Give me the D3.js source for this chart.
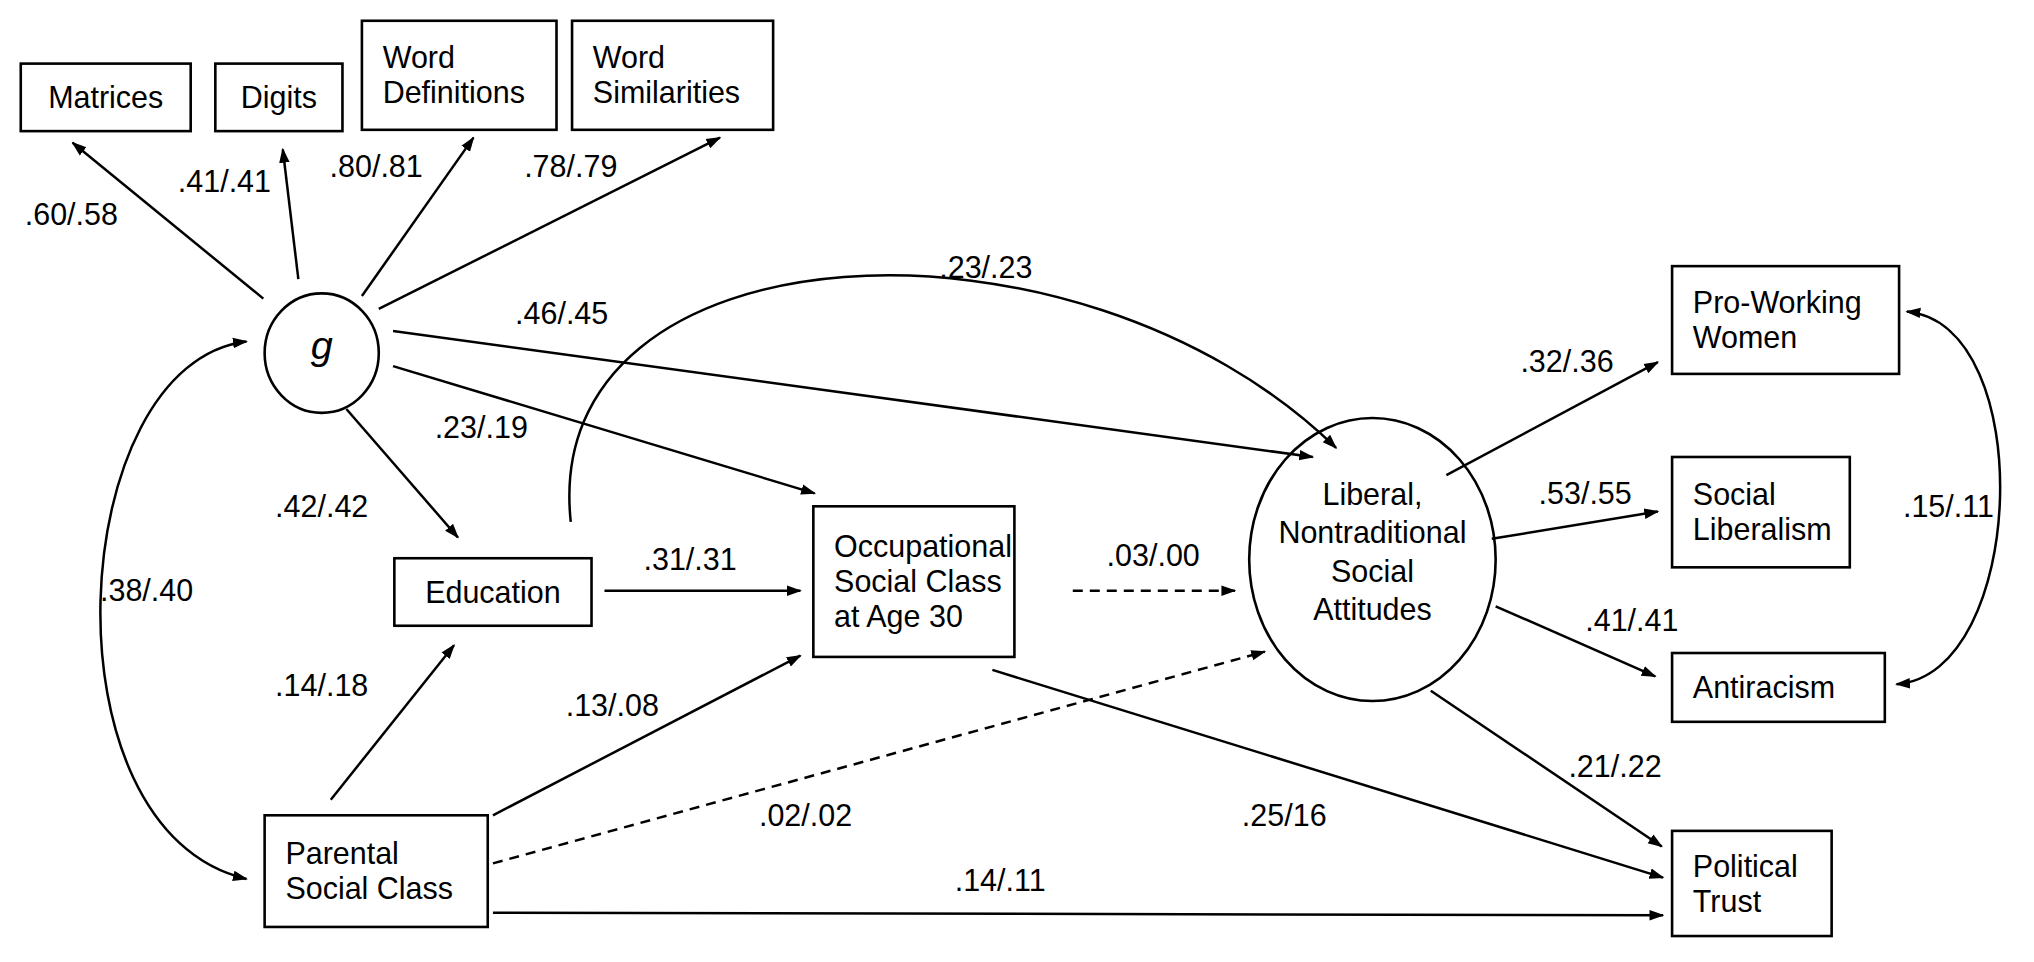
<!DOCTYPE html>
<html><head><meta charset="utf-8">
<script src="https://cdn.jsdelivr.net/npm/d3@7"></script>
<style>body{margin:0;background:#fff}svg{display:block}text{font-family:"Liberation Sans",Arial,sans-serif;fill:#000}</style>
</head><body><svg id="c"></svg>
<script>
// Node labels
const boxNodes = [
 {id:"mat", lines:["Matrices"]},
 {id:"dig", lines:["Digits"]},
 {id:"wd", lines:["Word","Definitions"], left:true},
 {id:"ws", lines:["Word","Similarities"], left:true},
 {id:"edu", lines:["Education"]},
 {id:"occ", lines:["Occupational","Social Class","at Age 30"], left:true},
 {id:"par", lines:["Parental","Social Class"], left:true},
 {id:"pw", lines:["Pro-Working","Women"], left:true},
 {id:"sl", lines:["Social","Liberalism"], left:true},
 {id:"anti", lines:["Antiracism"], left:true},
 {id:"pt", lines:["Political","Trust"], left:true}
];
const ellNodes = [
 {id:"g", lines:["g"], italic:true},
 {id:"lib", lines:["Liberal,","Nontraditional","Social","Attitudes"]}
];
// Path coefficients (label text)
const coefLabels = [".60/.58",".41/.41",".80/.81",".78/.79",".46/.45",".23/.19",".23/.23",".42/.42",".38/.40",".31/.31",".03/.00",".14/.18",".13/.08",".02/.02",".25/16",".14/.11",".32/.36",".53/.55",".41/.41",".21/.22",".15/.11"];

// Layout (reference units, 1568 x 741)
const boxLayout = {
 mat:[16,49,131,52], dig:[166,49,98,52], wd:[279,16,150,84], ws:[441,16,155,84],
 edu:[304,430,152,52], occ:[627,390,155,116], par:[204,628,172,86],
 pw:[1289,205,175,83], sl:[1289,352,137,85], anti:[1289,503,164,53], pt:[1289,640,123,81]
};
const ellLayout = { g:[248,272,44,46], lib:[1058,431,95,109] };
const arrows = [
 {p:[[203,230],[56,110]]},{p:[[230,215],[218,115]]},{p:[[279,228],[365,106]]},{p:[[292,238],[555,106]]},
 {p:[[303,255],[1012,352]]},{p:[[303,282],[628,380]]},{p:[[267,315],[353,414]]},
 {p:[[466,455],[617,455]]},{p:[[827,455],[952,455]],dash:true},
 {p:[[255,616],[350,497]]},{p:[[380,628],[617,505]]},{p:[[380,665],[975,502]],dash:true},
 {p:[[380,703],[1282,705]]},{p:[[765,516],[1282,676]]},
 {p:[[1115,366],[1278,279]]},{p:[[1150,415],[1278,394]]},{p:[[1153,467],[1276,521]]},{p:[[1103,532],[1281,652]]}
];
const curves = [
 {d:[[440,402],[415,170],[830,150],[1030,345]], end:true},
 {d:[[190,677],[30,640],[50,280],[190,263]], end:true, start:true},
 {d:[[1470,240],[1572,250],[1562,520],[1462,527]], end:true, start:true}
];
const labelPos = [[55,165],[173,140],[290,128],[440,128],[433,241],[371,329],[760,206],[248,390],[113,455],[532,431],[889,428],[248,528],[472,543],[621,628],[990,628],[771,678],[1208,278],[1222,380],[1258,478],[1245,590],[1502,390]];

const W=2034,H=962;
const x=d3.scaleLinear().domain([0,1568]).range([0,W]);
const y=d3.scaleLinear().domain([0,741]).range([0,H]);
const k=W/1568;
const svg=d3.select("#c").attr("width",W).attr("height",H);
const defs=svg.append("defs");
defs.append("marker").attr("id","ah").attr("viewBox","0 0 10 10").attr("refX",9).attr("refY",5)
 .attr("markerWidth",15).attr("markerHeight",15).attr("markerUnits","userSpaceOnUse").attr("orient","auto-start-reverse")
 .append("path").attr("d","M0,1.5 L10,5 L0,8.5 Z").attr("fill","#000");
const fs=23.5*k, lh=27*k;
// boxes
boxNodes.forEach(n=>{
 const [bx,by,bw,bh]=boxLayout[n.id];
 svg.append("rect").attr("x",x(bx)).attr("y",y(by)).attr("width",x(bw)).attr("height",y(bh))
  .attr("fill","none").attr("stroke","#000").attr("stroke-width",2.6);
 const cy=y(by+bh/2), n0=n.lines.length;
 n.lines.forEach((t,i)=>{
  svg.append("text").attr("x",n.left?x(bx+16):x(bx+bw/2)).attr("y",cy+(i-(n0-1)/2)*lh).attr("dy","0.35em")
   .attr("text-anchor",n.left?"start":"middle").attr("font-size",fs).attr("textLength",null).text(t);
 });
});
ellNodes.forEach(n=>{
 const [cx,cy,rx,ry]=ellLayout[n.id];
 svg.append("ellipse").attr("cx",x(cx)).attr("cy",y(cy)).attr("rx",x(rx)).attr("ry",y(ry))
  .attr("fill","none").attr("stroke","#000").attr("stroke-width",2.6);
 const n0=n.lines.length;
 n.lines.forEach((t,i)=>{
  svg.append("text").attr("x",x(cx)).attr("y",y(cy-6)+(i-(n0-1)/2)*lh*1.1).attr("dy","0.35em")
   .attr("text-anchor","middle").attr("font-size",n.italic?fs*1.3:fs).attr("font-style",n.italic?"italic":null).text(t);
 });
});
const line=d3.line().x(d=>x(d[0])).y(d=>y(d[1]));
arrows.forEach(a=>{
 svg.append("path").attr("d",line(a.p)).attr("fill","none").attr("stroke","#000").attr("stroke-width",2.5)
  .attr("stroke-dasharray",a.dash?"10,7":null).attr("marker-end","url(#ah)");
});
curves.forEach(c=>{
 const p=d3.path(); const q=c.d.map(d=>[x(d[0]),y(d[1])]);
 p.moveTo(...q[0]); p.bezierCurveTo(...q[1],...q[2],...q[3]);
 svg.append("path").attr("d",p.toString()).attr("fill","none").attr("stroke","#000").attr("stroke-width",2.5)
  .attr("marker-end",c.end?"url(#ah)":null).attr("marker-start",c.start?"url(#ah)":null);
});
coefLabels.forEach((t,i)=>{
 svg.append("text").attr("x",x(labelPos[i][0])).attr("y",y(labelPos[i][1])).attr("dy","0.35em")
  .attr("text-anchor","middle").attr("font-size",fs).text(t);
});
</script></body></html>
